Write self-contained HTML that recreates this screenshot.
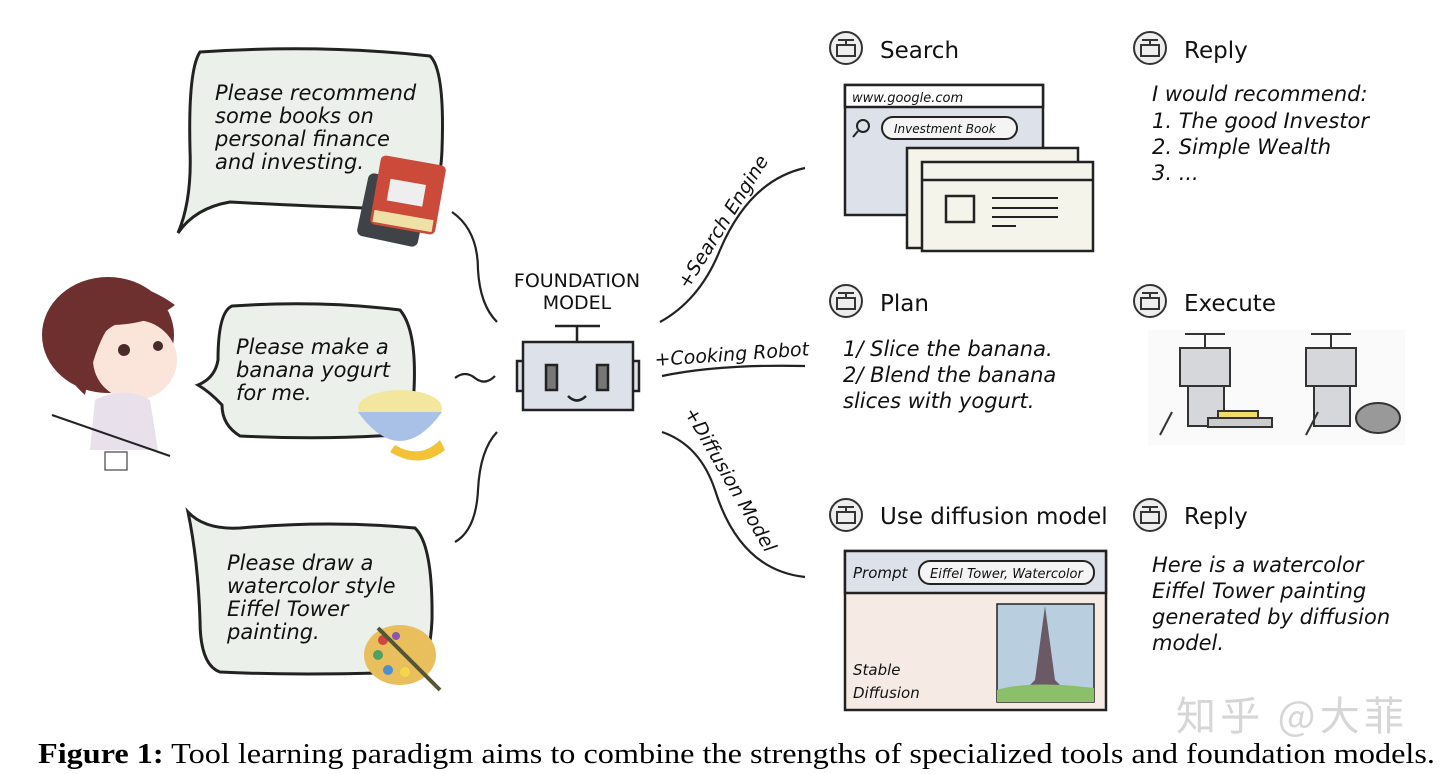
<!DOCTYPE html>
<html><head><meta charset="utf-8"><style>
html,body{margin:0;padding:0;background:#fff;}
svg{display:block}
.h{font-family:"DejaVu Sans","Liberation Sans",sans-serif;fill:#111;}
</style></head><body>
<svg width="1440" height="774" viewBox="0 0 1440 774" xmlns="http://www.w3.org/2000/svg">
<g fill="#ebf0eb" stroke="#222" stroke-width="3">
<path d="M200,52 Q320,44 430,56 Q445,70 442,150 Q440,200 420,210 Q300,206 230,202 Q195,208 178,233 Q192,200 190,150 Q188,70 200,52Z"/>
<path d="M232,306 Q320,300 400,310 Q417,330 414,390 Q412,432 395,435 Q320,440 240,436 Q222,425 222,405 Q210,392 198,385 Q215,378 218,360 Q218,312 232,306Z"/>
<path d="M188,512 Q205,530 240,528 Q330,520 415,528 Q433,545 432,620 Q430,668 410,672 Q300,676 220,672 Q200,665 200,620 Q198,560 188,512Z"/>
</g>
<g class="h" font-size="21" font-style="italic">
<text x="215" y="100">Please recommend</text><text x="215" y="123">some books on</text><text x="215" y="146">personal finance</text><text x="215" y="169">and investing.</text>
<text x="236" y="354">Please make a</text><text x="236" y="377">banana yogurt</text><text x="236" y="400">for me.</text>
<text x="227" y="570">Please draw a</text><text x="227" y="593">watercolor style</text><text x="227" y="616">Eiffel Tower</text><text x="227" y="639">painting.</text>
</g>
<!-- books -->
<rect x="362" y="178" width="62" height="64" rx="6" fill="#3f4247" transform="rotate(12 393 210)"/>
<rect x="375" y="160" width="66" height="70" rx="5" fill="#cc4a3a" transform="rotate(10 408 195)"/>
<rect x="388" y="182" width="36" height="22" fill="#eee" transform="rotate(10 408 195)"/>
<rect x="373" y="215" width="60" height="12" fill="#efe0a8" transform="rotate(10 403 221)"/>
<!-- bowl -->
<ellipse cx="400" cy="408" rx="42" ry="18" fill="#f3e7a0"/>
<path d="M358,412 Q400,470 442,412Z" fill="#a9c1e6"/>
<path d="M395,445 Q420,460 440,440 L445,450 Q420,470 390,452Z" fill="#f2c237"/>
<!-- palette -->
<ellipse cx="400" cy="655" rx="36" ry="30" fill="#e9be5c"/>
<circle cx="383" cy="640" r="5" fill="#d0463c"/><circle cx="378" cy="655" r="5" fill="#50a060"/><circle cx="388" cy="670" r="5" fill="#4d8fd0"/><circle cx="405" cy="672" r="5" fill="#f4d64b"/><circle cx="396" cy="636" r="4" fill="#8956b0"/>
<line x1="378" y1="628" x2="440" y2="690" stroke="#553" stroke-width="4"/>
<!-- woman -->
<ellipse cx="108" cy="335" rx="66" ry="58" fill="#6e2f2f"/>
<ellipse cx="135" cy="360" rx="42" ry="40" fill="#fbe5da"/>
<path d="M60,300 Q120,265 175,305 Q150,325 110,325 Q95,345 85,395 Q45,360 60,300Z" fill="#6e2f2f"/>
<circle cx="124" cy="350" r="6" fill="#4a2a2a"/><circle cx="158" cy="346" r="5" fill="#4a2a2a"/>
<path d="M95,400 Q125,385 150,400 L158,450 L90,450Z" fill="#e8e0ea"/>
<line x1="52" y1="415" x2="170" y2="456" stroke="#222" stroke-width="2"/>
<rect x="105" y="452" width="22" height="18" fill="none" stroke="#444" stroke-width="1.2"/>
<!-- connectors -->
<g fill="none" stroke="#222" stroke-width="2.2">
<path d="M452,212 Q478,230 478,270 Q480,305 497,322"/>
<path d="M455,378 Q465,370 475,378 Q485,386 495,376"/>
<path d="M497,432 Q480,450 478,490 Q476,530 455,542"/>
<path d="M660,322 Q700,300 720,250 Q750,180 805,168"/>
<path d="M662,376 Q720,364 805,366"/>
<path d="M662,432 Q700,445 715,490 Q740,570 805,577"/>
</g>
<g class="h" font-size="19">
<text x="577" y="287" text-anchor="middle">FOUNDATION</text>
<text x="577" y="309" text-anchor="middle">MODEL</text>
<text font-style="italic" transform="translate(688,290) rotate(-58)">+Search Engine</text>
<text font-style="italic" transform="translate(655,366) rotate(-4)">+Cooking Robot</text>
<text font-style="italic" transform="translate(684,412) rotate(60)">+Diffusion Model</text>
</g>
<!-- robot -->
<g stroke="#222" stroke-width="2.5">
<line x1="555" y1="326" x2="600" y2="326"/><line x1="577" y1="326" x2="577" y2="342"/>
<rect x="517" y="361" width="7" height="30" fill="#dde2ea"/><rect x="632" y="361" width="7" height="30" fill="#dde2ea"/>
<rect x="523" y="342" width="110" height="68" fill="#dde2ea"/>
<rect x="546" y="365" width="11" height="25" fill="#777"/><rect x="597" y="365" width="11" height="25" fill="#777"/>
<path d="M568,396 Q577,405 586,396" fill="none"/>
</g>
<!-- icons -->
<g stroke="#333" stroke-width="2" fill="none">
<g id="ic"><circle cx="846" cy="48" r="16" fill="#eee"/><line x1="838" y1="40" x2="854" y2="40"/><line x1="846" y1="40" x2="846" y2="45"/><rect x="837" y="45" width="18" height="11"/></g>
<use href="#ic" x="304"/><use href="#ic" y="253"/><use href="#ic" x="304" y="253"/><use href="#ic" y="467"/><use href="#ic" x="304" y="467"/>
</g>
<g class="h" font-size="23">
<text x="880" y="58">Search</text><text x="1184" y="58">Reply</text>
<text x="880" y="311">Plan</text><text x="1184" y="311">Execute</text>
<text x="880" y="524">Use diffusion model</text><text x="1184" y="524">Reply</text>
</g>
<!-- browser -->
<g stroke="#222" stroke-width="2.5">
<rect x="845" y="85" width="198" height="130" fill="#dde2ea"/>
<rect x="845" y="85" width="198" height="22" fill="#fff"/>
<rect x="907" y="148" width="171" height="100" fill="#f4f4ea"/>
<rect x="922" y="162" width="171" height="89" fill="#f4f4ea"/>
<line x1="922" y1="180" x2="1093" y2="180"/>
<rect x="946" y="196" width="28" height="26" fill="none"/>
<g stroke-width="2"><line x1="992" y1="198" x2="1058" y2="198"/><line x1="992" y1="208" x2="1058" y2="208"/><line x1="992" y1="217" x2="1058" y2="217"/><line x1="992" y1="226" x2="1016" y2="226"/></g>
<rect x="882" y="117" width="135" height="22" rx="11" fill="#f4f4f4" stroke-width="2"/>
<circle cx="863" cy="126" r="6" fill="none" stroke-width="2"/><line x1="858" y1="131" x2="853" y2="137" stroke-width="2"/>
</g>
<g class="h" font-style="italic">
<text x="852" y="102" font-size="13">www.google.com</text>
<text x="894" y="133" font-size="12">Investment Book</text>
</g>
<g class="h" font-size="21" font-style="italic">
<text x="1152" y="101">I would recommend:</text><text x="1152" y="128">1. The good Investor</text><text x="1152" y="154">2. Simple Wealth</text><text x="1152" y="180">3. ...</text>
<text x="843" y="356">1/  Slice the banana.</text><text x="843" y="382">2/  Blend the banana</text><text x="843" y="408">slices with yogurt.</text>
<text x="1152" y="572">Here is a watercolor</text><text x="1152" y="598">Eiffel Tower painting</text><text x="1152" y="624">generated by diffusion</text><text x="1152" y="650">model.</text>
</g>
<!-- execute -->
<rect x="1148" y="330" width="257" height="115" fill="#fafafa"/>
<g stroke="#333" stroke-width="2" fill="#d5d7da">
<line x1="1185" y1="334" x2="1225" y2="334"/><line x1="1205" y1="334" x2="1205" y2="348"/>
<rect x="1180" y="348" width="50" height="38"/><rect x="1188" y="386" width="36" height="40"/>
<rect x="1208" y="418" width="64" height="9" fill="#ccc"/><rect x="1218" y="411" width="40" height="7" fill="#f2dc6a"/>
<line x1="1311" y1="334" x2="1351" y2="334"/><line x1="1331" y1="334" x2="1331" y2="348"/>
<rect x="1306" y="348" width="50" height="38"/><rect x="1314" y="386" width="36" height="40"/>
<ellipse cx="1378" cy="418" rx="22" ry="15" fill="#999"/>
<line x1="1160" y1="435" x2="1172" y2="412"/><line x1="1306" y1="435" x2="1318" y2="412"/>
</g>
<!-- diffusion -->
<g stroke="#222" stroke-width="2.5">
<rect x="845" y="551" width="261" height="159" fill="#f6ebe4"/>
<rect x="845" y="551" width="261" height="42" fill="#dde2ea"/>
<rect x="919" y="561" width="175" height="23" rx="11" fill="#f4f4f4" stroke-width="2"/>
<rect x="997" y="604" width="97" height="98" fill="#b9cfe0" stroke-width="1.5"/>
</g>
<path d="M1045,606 L1035,680 L1015,700 L1075,700 L1055,680Z" fill="#6b5a66"/>
<path d="M997,690 Q1030,680 1094,688 L1094,702 L997,702Z" fill="#8bbf6a"/>
<g class="h" font-style="italic">
<text x="853" y="578" font-size="15">Prompt</text>
<text x="930" y="578" font-size="13">Eiffel Tower, Watercolor</text>
<text x="853" y="675" font-size="15">Stable</text><text x="853" y="698" font-size="15">Diffusion</text>
</g>
<text x="1176" y="730" font-family="Noto Sans CJK SC,sans-serif" font-size="40" fill="#ccc" opacity="0.8" textLength="228">知乎 @大菲</text>
<text x="38" y="763" font-family="Liberation Serif,serif" font-size="28" fill="#000" textLength="1397" lengthAdjust="spacingAndGlyphs"><tspan font-weight="bold">Figure 1:</tspan> Tool learning paradigm aims to combine the strengths of specialized tools and foundation models.</text>
</svg>
</body></html>
